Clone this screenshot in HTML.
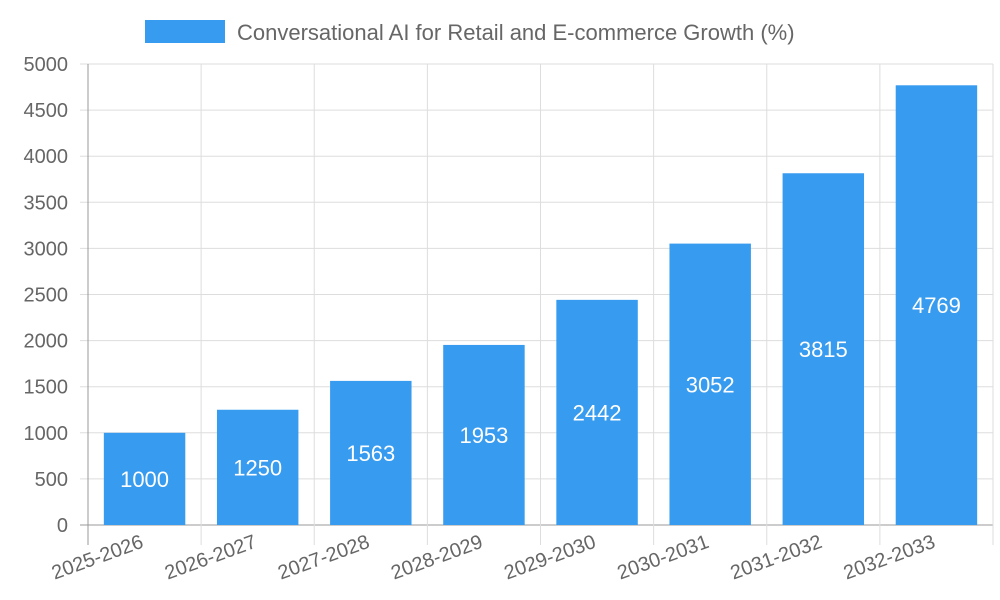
<!DOCTYPE html>
<html><head><meta charset="utf-8"><style>
html,body{margin:0;padding:0;background:#fff;}
svg{display:block;font-family:"Liberation Sans",sans-serif;}
</style></head><body>
<svg id="chart" width="1000" height="600">
<g id="legend">
<rect x="145" y="20" width="80" height="23" fill="#379bef"></rect>
<text x="237" y="40" font-size="22" fill="#666">Conversational AI for Retail and E-commerce Growth (%)</text>
</g>
<g id="grid"></g><g id="bars"></g><g id="axes"></g>
</svg>
<script>
const categories=["2025-2026","2026-2027","2027-2028","2028-2029","2029-2030","2030-2031","2031-2032","2032-2033"];
const values=[1000,1250,1563,1953,2442,3052,3815,4769];
const yTicks=[0,500,1000,1500,2000,2500,3000,3500,4000,4500,5000];
const NS="http://www.w3.org/2000/svg";
const L=88,R=993,T=64,B=525,yMax=5000;
const step=(R-L)/categories.length;
function y(v){return B-(v/yMax)*(B-T);}
function x(i){return L+step*i;}
function mk(tag,attrs,parent){const e=document.createElementNS(NS,tag);for(const k in attrs)e.setAttribute(k,attrs[k]);parent.appendChild(e);return e;}
const grid=document.getElementById('grid'),bars=document.getElementById('bars'),axes=document.getElementById('axes');
yTicks.forEach(t=>{
 const ln=mk('line',{x1:L-8,x2:R,y1:y(t),y2:y(t),stroke:t===0?'#999':'#ddd','stroke-width':1},grid);
 
 
 const tx=mk('text',{x:L-20,y:y(t)+7,'text-anchor':'end','font-size':20,fill:'#666'},axes);
 tx.textContent=t;
 
 
});
for(let i=0;i<=categories.length;i++){
 const ln=mk('line',{x1:x(i),x2:x(i),y1:T,y2:B+20,stroke:i===0?'#999':'#ddd','stroke-width':1},grid);
 
 
}
categories.forEach((c,i)=>{
 const cx=x(i)+step/2,bw=step*0.72;
 const r=mk('rect',{x:cx-bw/2,y:y(values[i]),width:bw,height:B-y(values[i]),fill:'#379bef'},bars);
 
 
 const vt=mk('text',{x:cx,y:(y(values[i])+B)/2+8,'text-anchor':'middle','font-size':22,fill:'#fff'},bars);
 vt.textContent=values[i];
 
 
 const lt=mk('text',{x:cx,y:B+22,'text-anchor':'end','font-size':20,fill:'#666',transform:`rotate(-20 ${cx} ${B+22})`},axes);
 lt.textContent=c;
 
 
});
</script>
</body></html>
